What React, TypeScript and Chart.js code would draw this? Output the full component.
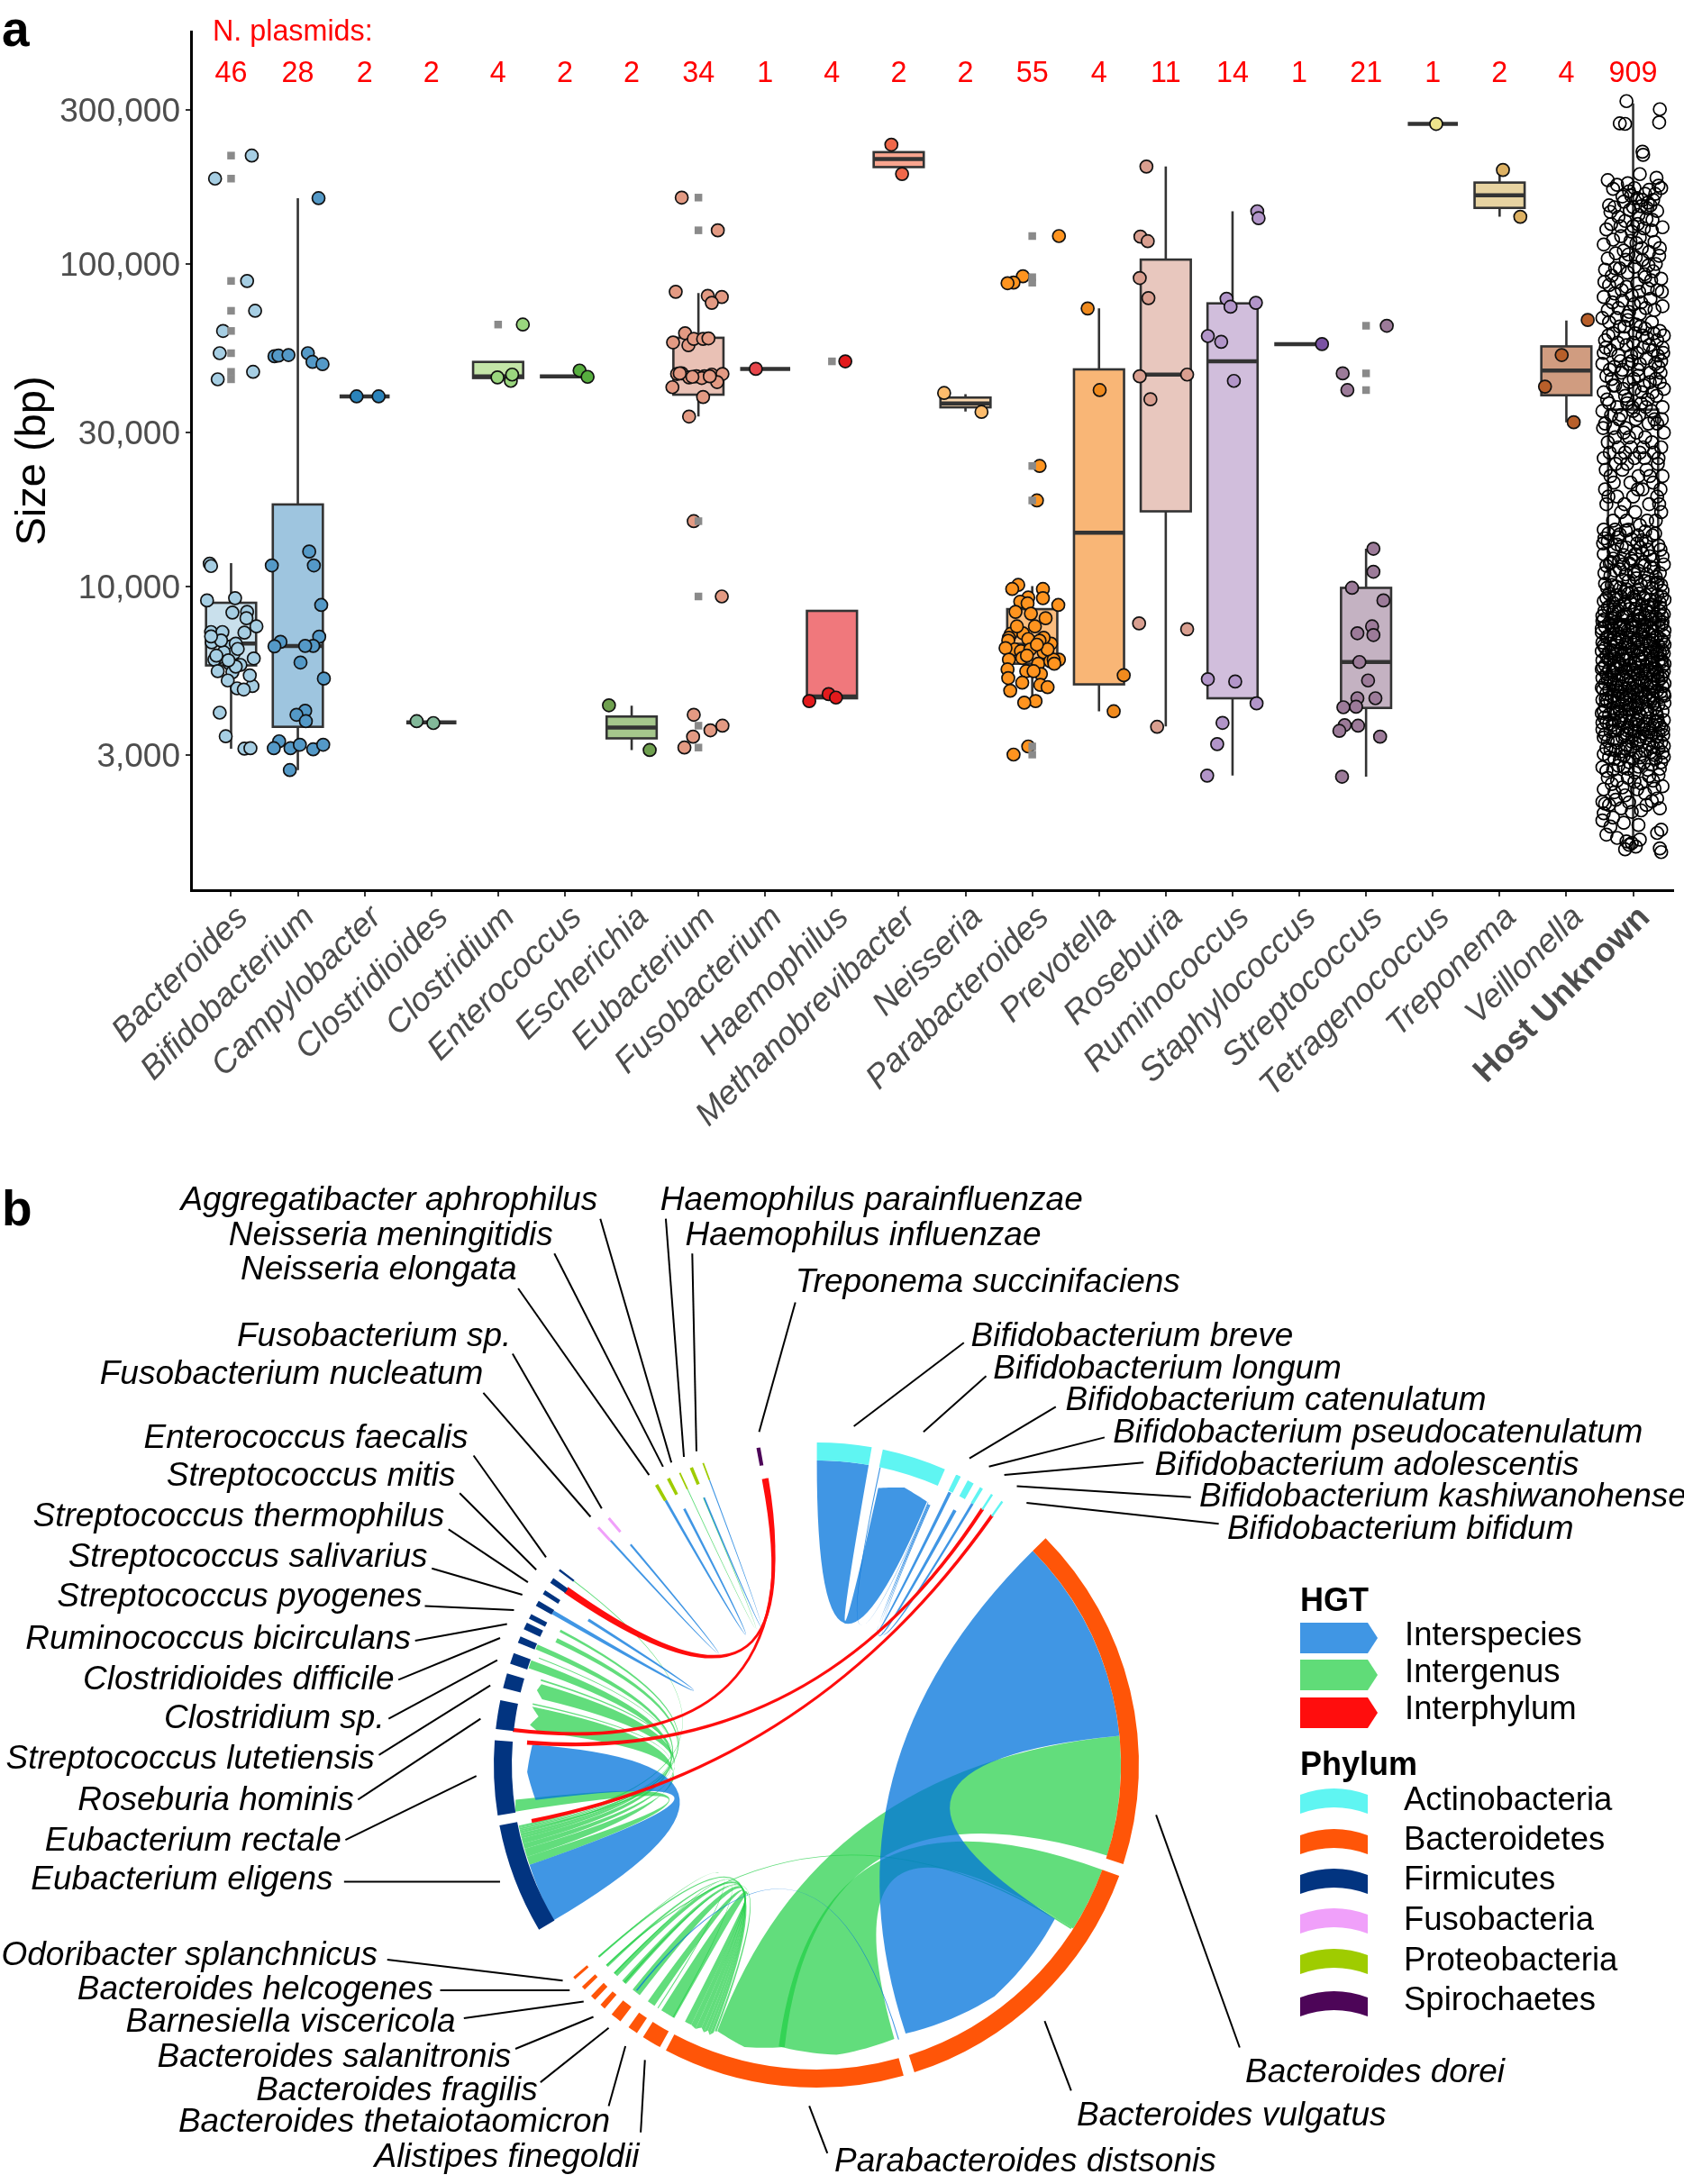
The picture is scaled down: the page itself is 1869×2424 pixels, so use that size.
import React, { useEffect, useRef } from "react";
import { Chart, registerables } from "chart.js";

Chart.register(...registerables);

const FONT = "'Liberation Sans', Arial, sans-serif";

// ---------- Panel a: data ----------
const categories = ["Bacteroides","Bifidobacterium","Campylobacter","Clostridioides","Clostridium","Enterococcus","Escherichia","Eubacterium","Fusobacterium","Haemophilus","Methanobrevibacter","Neisseria","Parabacteroides","Prevotella","Roseburia","Ruminococcus","Staphylococcus","Streptococcus","Tetragenococcus","Treponema","Veillonella","Host Unknown"];
const plasmidCounts = [46,28,2,2,4,2,2,34,1,4,2,2,55,4,11,14,1,21,1,2,4,909];
const yTicks = [3000,10000,30000,100000,300000];

const pointColors = ["#A6CEE3","#5499C7","#2B83BA","#82B899","#9AD67E","#57AE3F","#6FA04F","#E39A83","#E8464B","#E31A1C","#F0684A","#FDBC6C","#FF941F","#F08A1D","#D99F90","#B295C9","#7A52A3","#9C7B99","#EEE58C","#DDB163","#B85F2A","rgba(0,0,0,0)"];
const boxColors = ["#C9E0EC","#9EC5DF","#2B83BA","#82B899","#C4E5A8","#57AE3F","#A5C78C","#E9C1B5","#E8464B","#F0787C","#F9A58F","#FCD9AE","#FBBD7E","#F9B676","#E8C7BE","#D1BEDC","#7A52A3","#C4B2C2","#EEE58C","#E7D3A1","#D09C80","rgba(0,0,0,0)"];

const boxQ1 = [5690,3670,38850,3790,44300,44850,3380,39330,47300,4500,199800,35940,5760,4970,17100,4500,56450,4200,271900,149300,39170,4790];
const boxMedian = [6650,6540,38850,3790,44850,44850,3650,44850,47300,4560,211700,36980,6595,14690,45400,49900,56450,5830,271900,163400,46730,7840];
const boxQ3 = [8900,17960,38850,3790,49700,44850,3950,59050,47300,8400,222300,38530,8505,47120,103200,75500,56450,9900,271900,178900,55530,35350];
const whiskerLow = [3140,2695,38850,3790,44300,44850,3110,33650,47300,4500,199800,34900,4410,4100,3680,2590,56450,2570,271900,140100,32300,1518];
const whiskerHigh = [11820,160000,38850,3790,49700,44850,4270,81300,47300,8400,222300,39490,10030,72800,200600,145700,56450,13090,271900,194900,66770,315000];

const outliers = [
  [0,216900],[0,184000],[0,88600],[0,71600],[0,62000],[0,52900],[0,46300],[0,43900],
  [4,64900],
  [7,160700],[7,127200],[7,15940],[7,9310],[7,3700],[7,3165],
  [9,49900],
  [12,122100],[12,91000],[12,87500],[12,23640],[12,18480],[12,3190],[12,3010],
  [17,64350],[17,45800],[17,40640],
];

const bacteroides = [[.31,216900],[-.24,184000],[.24,88600],[.36,71600],[-.12,62000],[-.17,52900],[.33,46300],[-.2,43900],[-.32,11770],[-.3,11570],[-.36,9050],[.06,9200],[.24,8340],[.02,8300],[.23,7970],[.38,7520],[-.3,7220],[-.13,7220],[.2,7190],[-.29,6710],[0,6520],[.04,6200],[-.2,6000],[-.25,5930],[.34,5980],[.14,5710],[-.02,5760],[-.2,5460],[.02,5420],[-.05,5110],[.32,4910],[.09,4830],[.19,4790],[-.17,4060],[-.08,3430],[.2,3140],[.29,3150],[.07,6650],[-.11,6250],[.07,5640],[-.22,6100],[-.15,6800],[.1,6400],[-.04,5900],[-.3,7000],[.28,5300]];
const bifidobacterium = [[.31,160000],[-.35,51760],[-.29,51990],[-.14,52200],[.15,52900],[.22,49700],[.37,48900],[.17,12830],[-.39,11620],[.24,11620],[.35,8760],[.32,6985],[-.26,6735],[-.35,6520],[.23,6540],[.11,6540],[.04,5810],[.39,5180],[.11,4115],[-.02,4000],[.12,3820],[-.28,3310],[-.36,3150],[-.11,3150],[.03,3230],[.23,3125],[.38,3230],[-.12,2695]];
const campylobacter = [[-.12,38850],[.21,38850]];
const clostridioides = [[-.22,3820],[.03,3770]];
const clostridium = [[.37,64900],[-.01,44500],[.19,43400],[.21,45400]];
const enterococcus = [[.22,46730],[.34,44670]];
const escherichia = [[-.34,4280],[.27,3110]];
const eubacterium = [[-.25,160700],[.29,127200],[-.34,82000],[.14,79700],[.35,79000],[.2,75800],[-.2,61020],[-.38,57130],[-.15,55980],[-.07,58560],[.07,58560],[.15,58800],[-.25,45800],[-.32,45600],[-.03,44850],[-.14,44500],[.09,44850],[.2,45400],[.36,45600],[.28,43040],[-.39,41490],[.07,38690],[-.14,33650],[-.07,15940],[.35,9310],[-.07,4000],[.18,3580],[.36,3700],[-.08,3420],[-.21,3165],[.05,44300],[-.28,45800],[-.09,44670],[.17,44850]];
const fusobacterium = [[-.14,47300]];
const haemophilus = [[.2,49900],[-.34,4410],[-.05,4635],[.06,4522]];
const methanobrevibacter = [[-.11,234500],[.05,190200]];
const neisseria = [[-.32,39810],[.24,34770]];
const parabacteroides = [[.4,122100],[-.14,91600],[-.28,87600],[-.37,87200],[.11,23640],[.07,18480],[-.06,3190],[-.28,3010],[-.21,10110],[-.3,9820],[.16,9820],[.16,9200],[-.06,9240],[-.18,8970],[-.07,8860],[.39,8760],[-.02,8235],[-.25,8340],[.2,7970],[.04,7520],[-.14,7160],[-.32,7130],[-.35,6930],[-.06,6870],[-.36,6790],[.28,6650],[-.26,6380],[-.4,6440],[-.17,6300],[.17,6250],[-.35,5930],[.09,5760],[.27,5860],[.4,5930],[.32,5930],[-.37,5530],[-.09,5460],[.13,5350],[.02,5460],[-.36,5200],[-.15,5030],[.12,4950],[.23,4870],[-.33,4750],[.05,4410],[-.12,4360],[.17,6930],[-.15,6000],[.33,5760],[-.03,6380],[.11,6790],[-.23,7520],[.23,6380],[-.08,6100],[.07,6600]];
const prevotella = [[-.17,72800],[.01,40640],[.37,5305],[.22,4100]];
const roseburia = [[-.29,200600],[-.38,121600],[-.27,117700],[-.39,90500],[-.26,78400],[-.39,44850],[.32,45400],[-.23,38060],[-.4,7680],[.32,7370],[-.13,3670]];
const ruminococcus = [[.37,145700],[.39,138700],[-.09,78050],[-.03,73700],[.35,75800],[-.37,59770],[-.17,57380],[.02,43400],[-.37,5157],[.04,5073],[.36,4340],[-.15,3775],[-.23,3243],[-.38,2590]];
const staphylococcus = [[.34,56450]];
const streptococcus = [[.31,64350],[-.35,45800],[-.28,40640],[.11,13090],[.11,11110],[-.21,9900],[.26,9050],[.09,7520],[-.13,7160],[.11,7070],[-.1,5830],[.03,5110],[.14,4500],[-.13,4500],[-.34,4220],[-.15,4235],[-.32,3715],[-.12,3700],[-.4,3565],[.21,3420],[-.36,2570]];
const tetragenococcus = [[.05,271900]];
const treponema = [[.05,195700],[.31,140100]];
const veillonella = [[.32,67040],[-.07,52200],[-.32,41660],[.11,32300]];
// Host Unknown: [offset in hundredths of a category, size in kb] read from the dense cloud
const hostUnknown = [
-10,320,40,302,39,275,-20,273,-12,272,14,223,15,218,-38,182,10,190,-24,176,-30,171,35,185,-8,178,42,172,33,165,38,175,-6,168,6,160,14,158,-16,162,22,155,-28,150,26,152,2,172,-14,156,18,165,-36,152,30,158,0,150,12,151,-3,163,24,170,
-40,128,-34,145,-22,140,8,142,20,138,36,146,44,130,-12,136,0,131,16,129,28,127,-44,115,-30,119,-18,122,-4,118,10,121,32,117,40,112,-38,104,-26,108,-14,110,4,105,14,103,24,109,34,100,-42,96,-32,92,-20,97,-8,94,2,98,18,91,30,95,42,90,-36,86,-24,88,-10,85,6,87,22,84,36,83,-44,79,-28,81,-16,77,-2,80,12,76,26,78,44,74,-38,72,-22,73,-6,71,10,70,32,72,
-46,68,-36,66,-20,64,-8,67,4,65,18,63,28,66,40,62,46,60,-42,58,-30,61,-14,59,0,57,14,60,24,56,36,58,44,55,-44,53,-34,54,-22,52,-10,56,6,53,20,51,30,54,42,50,-46,49,-28,48,-16,47,-2,50,10,49,26,46,38,48,-40,45,-32,44,-18,46,-6,43,8,45,16,42,34,44,46,41,-44,40,-30,42,-12,39,2,41,22,38,40,43,-36,37,-24,36,-8,38,12,37,28,35,44,36,-46,35,-18,34,0,35,32,33,
-42,32,-30,31,-14,30,4,33,18,29,36,32,46,30,-38,28,-22,27,-6,29,10,26,28,28,42,27,-44,25,-26,24,-12,26,2,25,20,23,38,25,-34,22,-16,23,8,22,30,21,44,22,-42,20,-24,19,-4,21,14,20,36,19,-40,18,-18,17,0,19,24,18,42,17,-30,16,-10,16,10,15.5,34,16,-44,15,-20,14.5,-2,14,18,14.8,
-38,13.8,-24,13.5,-10,13.2,6,13.6,22,13,38,13.4,-44,12.6,-30,12.2,-14,12.5,0,12,14,12.7,30,12.1,44,12.4,-40,11.6,-20,11.3,-6,11.8,8,11.2,26,11.5,40,11,-34,10.8,-16,10.5,2,10.9,18,10.4,34,10.7,-42,10.2,-26,10,-10,9.8,12,10.1,28,9.9,44,9.7,-36,9.5,-18,9.3,-2,9.6,16,9.2,36,9.4,-44,9,-30,8.9,-12,8.8,4,9.1,22,8.7,40,8.9,-38,8.6,-22,8.4,-6,8.5,10,8.3,30,8.6,46,8.2,-46,8.1,-32,8,-16,8.1,0,7.9,18,8,34,8.05,
-46,7.8,-36,7.7,-26,7.75,-14,7.6,-4,7.7,8,7.8,20,7.6,32,7.7,44,7.75,-42,7.5,-30,7.4,-18,7.45,-8,7.3,4,7.5,14,7.35,26,7.4,38,7.5,47,7.3,-47,7.2,-34,7.1,-22,7.15,-10,7.05,0,7.2,12,7.1,24,7.15,36,7,46,7.05,-40,6.95,-28,6.9,-16,6.8,-4,6.95,8,6.85,18,6.9,30,6.8,42,6.85,-46,6.7,-34,6.65,-24,6.7,-12,6.6,2,6.7,14,6.6,26,6.65,38,6.55,47,6.6,-42,6.45,-30,6.5,-18,6.4,-6,6.5,6,6.45,20,6.4,32,6.5,44,6.35,-47,6.3,-36,6.25,-24,6.3,-12,6.2,0,6.3,12,6.2,24,6.25,36,6.15,46,6.2,-40,6.1,-28,6.05,-16,6.1,-4,6,8,6.1,18,6,30,6.05,42,5.95,-46,5.9,-34,5.9,-22,5.85,-10,5.9,2,5.8,14,5.85,26,5.8,38,5.85,47,5.75,-42,5.7,-30,5.7,-18,5.65,-6,5.7,6,5.6,20,5.65,32,5.6,44,5.65,-47,5.55,-36,5.5,-24,5.55,-12,5.45,0,5.5,12,5.45,24,5.5,36,5.4,46,5.45,-40,5.35,-28,5.3,-16,5.35,-4,5.25,8,5.35,18,5.25,30,5.3,42,5.2,-46,5.2,-34,5.15,-22,5.1,-10,5.15,2,5.05,14,5.1,26,5.05,38,5.1,47,5,-42,5,-30,4.95,-18,4.9,-6,4.95,6,4.9,20,4.95,32,4.85,44,4.9,-47,4.85,-36,4.8,-24,4.75,-12,4.8,0,4.7,12,4.75,24,4.7,36,4.75,46,4.65,-40,4.65,-28,4.6,-16,4.55,-4,4.6,8,4.5,18,4.55,30,4.5,42,4.55,-46,4.45,-34,4.4,-22,4.45,-10,4.35,2,4.4,14,4.35,26,4.4,38,4.3,47,4.35,-42,4.25,-30,4.2,-18,4.25,-6,4.15,6,4.2,20,4.15,32,4.2,44,4.1,-47,4.05,-36,4,-24,4.05,-12,3.95,0,4,12,3.95,24,3.9,36,3.95,46,3.85,-40,3.8,-28,3.85,-16,3.75,-4,3.8,8,3.7,18,3.75,30,3.7,42,3.65,-46,3.6,-34,3.55,-22,3.6,-10,3.5,2,3.55,14,3.5,26,3.45,38,3.5,
-44,3.4,-30,3.35,-16,3.4,-2,3.3,10,3.35,24,3.25,36,3.3,46,3.2,-40,3.15,-26,3.1,-12,3.15,4,3.05,18,3.1,32,3,44,3.05,-36,2.95,-20,2.9,-6,2.85,10,2.95,28,2.8,42,2.85,-46,2.75,-30,2.7,-14,2.75,2,2.65,22,2.7,38,2.6,-38,2.55,-24,2.5,-8,2.55,12,2.45,30,2.5,44,2.4,-44,2.35,-28,2.3,-12,2.25,6,2.35,36,2.2,-46,2.15,-36,2.1,-18,2.05,-2,2,20,2.1,40,2.05,-44,1.98,-30,1.92,-46,1.88,-34,1.8,-14,1.85,8,1.82,36,1.72,42,1.76,-40,1.7,-24,1.66,-10,1.62,-6,1.58,-2,1.6,4,1.56,10,1.64,40,1.54,42,1.5,-12,1.53,
];
const hostUnknownMore = [
-5,147,7,133,-19,131,21,149,-2,126,13,112,-33,133,29,137,-11,103,5,116,23,99,-27,97,-7,107,17,93,-43,88,39,106,-17,83,9,82,27,89,-31,76,1,75,19,73,43,82,-9,69,-25,68,11,64,31,61,-37,60,-13,64,3,61,21,59,37,52,-41,55,-23,57,-3,52,15,55,33,49,45,53,-35,47,-19,50,-7,49,7,47,25,43,41,46,-27,42,-15,41,1,44,13,40,35,39,-39,38,-9,37,19,36,29,40,-33,34,-21,33,-1,36,9,34,23,32,43,33,-45,31,-27,29,-11,31,5,30,15,27,31,26,-35,26,-19,25,-3,27,17,25,37,24,-41,23,-29,21,-9,24,7,20,25,22,41,20,-37,19,-13,18,3,17,21,16,39,18,-27,15,-7,15,13,13.9,29,14.4,-43,14.1,-33,11.9,-15,11.7,1,11.1,17,11.6,35,10.2,-39,9.9,-25,9.4,-7,10.4,9,9.5,25,9.1,43,9.3,-31,8.3,-13,8.9,3,8.5,19,8.4,41,8.6,
-44,7.9,-29,7.95,-9,8.05,11,7.95,27,7.9,39,7.85,-47,7.4,-33,7.55,-21,7.6,-1,7.45,17,7.55,29,7.25,43,7.6,-38,7,-25,6.75,-13,7.35,5,6.8,15,7.25,33,6.95,45,6.75,-44,6.55,-32,6.35,-20,6.95,-9,6.7,9,6.35,23,6.75,35,6.3,-37,5.95,-26,6.15,-15,5.95,-2,6.4,11,5.95,28,5.9,40,6.25,-45,5.6,-31,5.45,-20,5.75,-8,5.55,4,5.75,16,5.5,34,5.55,43,5.85,-38,5.15,-27,5.6,-14,5.25,2,5.4,10,5.2,22,5.35,37,5.25,-45,4.8,-33,5.05,-19,4.7,-7,5.1,7,4.75,17,5.05,29,4.6,44,5.3,-39,4.4,-26,4.9,-13,4.45,-1,4.85,13,4.5,27,4.9,41,4.7,-44,4.1,-32,4.55,-20,4.1,-5,4.3,9,4.05,23,4.45,35,4.05,-36,3.75,-18,3.85,-8,3.65,3,3.75,16,3.6,33,3.8,45,3.6,
-41,4.48,-23,4.38,-11,4.52,3,4.28,19,4.62,31,4.33,47,4.58,-43,3.92,-29,4.12,-17,3.98,-3,4.18,7,3.88,21,4.08,37,3.83,-46,3.78,-31,3.72,-21,3.82,-9,3.58,5,3.82,15,3.68,25,3.62,39,3.72,-42,3.48,-27,3.58,-13,3.46,-1,3.44,11,3.42,23,3.52,35,3.42,45,3.46,-38,3.32,-24,3.28,-10,3.22,6,3.26,20,3.38,30,3.18,42,3.28,-34,3.12,-18,3.08,-4,3.12,12,3.02,26,3.06,38,3.14,-44,3.02,-28,2.92,-14,2.98,0,2.92,16,2.84,34,2.92,46,2.96,-40,2.68,-22,2.78,-8,2.72,8,2.76,24,2.58,40,2.72,-32,2.44,-16,2.38,2,2.48,18,2.28,32,2.36,-42,2.12,-26,2.18,-6,2.14,12,2.02,28,2.16,
-37,14.6,-23,14.2,-11,14.9,7,14.4,19,13.8,33,14.6,-45,13.6,-29,12.9,-17,13.3,3,12.6,11,13.2,25,12.4,41,13,-35,11.8,-21,12,-3,12.2,15,11.9,31,11.4,46,11.7,-43,11,-27,11.2,-11,10.9,5,10.6,21,10.9,37,10.3,-32,10.1,-19,9.9,-7,9.5,9,9.8,24,10.3,42,10.1,-40,9.2,-25,9.1,-13,9.6,1,9.3,19,9.4,33,9,47,9.1,-35,8.7,-20,8.7,-4,8.9,13,8.8,27,8.8,39,8.4,-43,8.4,-28,8.5,-10,8.2,7,8.1,23,8.3,43,8.1,
];

const categoryPoints = [bacteroides,bifidobacterium,campylobacter,clostridioides,clostridium,enterococcus,escherichia,eubacterium,fusobacterium,haemophilus,methanobrevibacter,neisseria,parabacteroides,prevotella,roseburia,ruminococcus,staphylococcus,streptococcus,tetragenococcus,treponema,veillonella];

// ---------- Panel b: data (angles in degrees clockwise from 12 o'clock, radii in ring units, outer ring = 358) ----------
const phylumColors = { A:"#5FF5F2", B:"#FF5508", F:"#023480", U:"#F0A0FA", P:"#9FCC00", S:"#4D0558" };
const sectorNames = ["Bifidobacterium breve","Bifidobacterium longum","Bifidobacterium catenulatum","Bifidobacterium pseudocatenulatum","Bifidobacterium adolescentis","Bifidobacterium kashiwanohense","Bifidobacterium bifidum","Bacteroides dorei","Bacteroides vulgatus","Parabacteroides distsonis","Alistipes finegoldii","Bacteroides thetaiotaomicron","Bacteroides fragilis","Bacteroides salanitronis","Barnesiella viscericola","Bacteroides helcogenes","Odoribacter splanchnicus","Eubacterium eligens","Eubacterium rectale","Roseburia hominis","Streptococcus lutetiensis","Clostridium sp.","Clostridioides difficile","Ruminococcus bicirculans","Streptococcus pyogenes","Streptococcus salivarius","Streptococcus thermophilus","Streptococcus mitis","Enterococcus faecalis","Fusobacterium nucleatum","Fusobacterium sp.","Neisseria elongata","Neisseria meningitidis","Aggregatibacter aphrophilus","Haemophilus parainfluenzae","Haemophilus influenzae","Treponema succinifaciens"];
const sectorStart = [0.1,11.9,25.7,28.0,30.5,32.8,35.0,45.3,110.1,164.3,209,213.8,217.4,221,223.3,225.9,228.4,239.3,261,276.4,283.8,288.3,292.3,294.9,297,299.6,302,304.4,307,317.2,319.7,330,332.4,334.8,336.9,339.3,349.3];
const sectorEnd = [9.9,23.5,26.6,29.2,31.1,33.2,35.4,107.9,162.3,207.8,212.5,215.6,219.4,222,224.3,226.6,228.9,259.2,274.4,281.6,286.5,290.3,293.5,296.2,297.9,300.6,302.8,305.4,307.4,317.7,320.2,330.6,333,335.1,337.5,339.6,350];
const sectorPhyla = "AAAAAAABBBBBBBBBBFFFFFFFFFFFFUUPPPPPS".split("");

const intergenusLinks = [
  [[[84.5,338],[107.3,338]],[[186.4,315],[194.3,323],[200.4,315]]],
  [[[110.1,338],[122.5,338]],[[164.1,316],[176,322.4],[187.6,315]]],
  [[[122.5,336],[122.8,336]],[[226.2,322],[226.5,322]]],
  [[[209.3,322],[212.3,322]],[[205.7,320],[207.1,320]]],
  [[[213.9,322],[215.5,322]],[[204.6,322],[205.7,320]]],
  [[[217.5,322],[219.3,322]],[[203.6,318],[204.6,322]]],
  [[[221,322],[222,322]],[[202.8,322],[203.6,318]]],
  [[[223.3,322],[224.3,322]],[[202.2,318],[202.8,322]]],
  [[[225.9,322],[226.4,322]],[[201.6,322],[202.2,318]]],
  [[[228.4,322],[228.8,322]],[[201,318],[201.6,322]]],
  [[[221.3,322],[221.6,322]],[[200.5,316],[200.9,316]]],
  [[[224,322],[224.2,322]],[[209.5,322],[209.7,322]]],
  [[[228.5,322],[228.7,322]],[[213,322],[213.2,322]]],
  [[[250.8,337],[252.4,337]],[[261.2,338],[263.4,336]]],
  [[[252.4,337],[254,337]],[[276.8,311],[278,321],[279.9,313],[281.6,322]]],
  [[[254,337],[255,337]],[[283.5,313],[285,321],[286.4,318]]],
  [[[255,337],[256,337]],[[288.6,337],[290.2,337]]],
  [[[256,337],[256.5,337]],[[292.4,337],[293.4,337]]],
  [[[256.5,337],[257,337]],[[295.2,320],[296.1,320]]],
  [[[257,337],[257.4,337]],[[297.4,321],[297.9,321]]],
  [[[257.4,337],[257.7,337]],[[282,322],[282.3,322]]],
  [[[257.7,337],[258,337]],[[287,320],[287.3,320]]],
  [[[258,337],[258.2,337]],[[291,330],[291.2,330]]],
  [[[258.2,337],[258.5,337]],[[307.1,338],[307.3,338]]],
  [[[334.9,338],[335.05,338]],[[337,322],[337.2,322]]],
];
const interspeciesLinks = [
  [[[45.3,338],[84.5,338]],[[122.8,315],[142.4,324],[161.6,314]]],
  [[[0.1,338],[9.9,338]],[[12.6,315],[17.6,323],[22.8,317]]],
  [[[12,338],[12.2,338]],[[23,317],[23.1,317]]],
  [[[23.5,315],[23.7,315]],[[30.6,338],[31.1,338]]],
  [[[23.3,315],[23.5,315]],[[28.2,322],[28.9,322]]],
  [[[23.1,315],[23.3,315]],[[25.8,337],[26.4,337]]],
  [[[317.3,338],[317.7,338]],[[319.7,320],[320.1,320]]],
  [[[330.1,338],[330.6,338]],[[332.5,320],[333,320]]],
  [[[337.1,322],[337.4,322]],[[339.35,338],[339.55,338]]],
  [[[299.7,338],[300.5,338]],[[302.2,300],[302.8,300]]],
  [[[239.4,339],[250.8,337]],[[262.9,314],[268.6,321],[274.1,316]]],
  [[[163.2,318],[163.4,318]],[[218.4,320],[218.7,320]]],
];
const interphylumLinks = [
  [[[304.5,338],[305.5,338]],[[349.4,322],[350,322]]],
  [[[276.4,338],[276.8,338]],[[350,322],[350.35,322]]],
  [[[32.8,338],[33.15,338]],[[274.2,321],[274.7,321]]],
  [[[35,338],[35.3,338]],[[258.7,321],[259.1,321]]],
];
const linkColors = { interspecies:"rgba(0,115,219,0.75)", intergenus:"rgba(31,207,69,0.7)", interphylum:"#FF0D0D" };

// label text, x, y, alignment (coordinates in the 1209-wide reading of the figure)
const chordLabels = [
  ["Aggregatibacter aphrophilus",429,862,"right"],["Neisseria meningitidis",397,887,"right"],["Neisseria elongata",371,912,"right"],
  ["Haemophilus parainfluenzae",474,862,"left"],["Haemophilus influenzae",492,887,"left"],["Treponema succinifaciens",571,921,"left"],
  ["Fusobacterium sp.",367,960,"right"],["Fusobacterium nucleatum",347,987,"right"],
  ["Bifidobacterium breve",697,960,"left"],["Bifidobacterium longum",713,983,"left"],["Bifidobacterium catenulatum",765,1006,"left"],["Bifidobacterium pseudocatenulatum",799,1029,"left"],["Bifidobacterium adolescentis",829,1052,"left"],["Bifidobacterium kashiwanohense",861,1075,"left"],["Bifidobacterium bifidum",881,1098,"left"],
  ["Enterococcus faecalis",336,1033,"right"],["Streptococcus mitis",327,1060,"right"],["Streptococcus thermophilus",319,1089,"right"],["Streptococcus salivarius",307,1118,"right"],["Streptococcus pyogenes",303,1147,"right"],["Ruminococcus bicirculans",295,1177,"right"],["Clostridioides difficile",283,1206,"right"],["Clostridium sp.",276,1234,"right"],["Streptococcus lutetiensis",269,1263,"right"],["Roseburia hominis",254,1293,"right"],["Eubacterium rectale",245,1322,"right"],["Eubacterium eligens",239,1350,"right"],
  ["Odoribacter splanchnicus",271,1404,"right"],["Bacteroides helcogenes",311,1429,"right"],["Barnesiella viscericola",327,1452,"right"],["Bacteroides salanitronis",367,1477,"right"],["Bacteroides fragilis",386,1501,"right"],["Bacteroides thetaiotaomicron",438,1524,"right"],["Alistipes finegoldii",459,1549,"right"],
  ["Parabacteroides distsonis",599,1552,"left"],["Bacteroides vulgatus",773,1519,"left"],["Bacteroides dorei",894,1488,"left"],
];
const leaderLines = [
  [431,875,482,1050],[398,900,476,1053],[372,925,466,1059],[478,875,491,1046],[497,900,500,1042],[571,935,545,1028],
  [368,972,432,1083],[347,1000,424,1089],[340,1045,392,1118],[330,1072,385,1127],[322,1098,379,1136],[310,1126,375,1145],[305,1153,369,1156],[298,1178,364,1166],[286,1206,359,1176],[279,1234,357,1192],[272,1260,352,1210],[257,1292,345,1234],[248,1321,342,1275],[247,1351,359,1351],
  [278,1407,404,1422],[316,1429,409,1429],[333,1449,419,1437],[370,1471,426,1448],[388,1495,437,1456],[437,1512,449,1469],[460,1531,463,1479],[594,1546,581,1512],[769,1501,750,1451],[890,1470,830,1303],
  [692,964,613,1024],[708,988,663,1028],[758,1010,696,1047],[793,1032,710,1053],[821,1050,721,1059],[855,1075,730,1067],[875,1094,737,1079],
];
const hgtLegend = [["Interspecies",1816,"#4096E4",1801],["Intergenus",1857,"#60DC78",1842],["Interphylum",1898,"#FF0D0D",1884]];
const phylumLegend = [["Actinobacteria",1999,"A",1985],["Bacteroidetes",2043,"B",2030],["Firmicutes",2087,"F",2074],["Fusobacteria",2132,"U",2118],["Proteobacteria",2177,"P",2163],["Spirochaetes",2221,"S",2210]];

const KX = 1869 / 1209;
const TOP_B = 1290;

const boxPlugin = {
  id: "boxes",
  beforeDatasetsDraw(chart: any) {
    const { ctx, scales: { x, y } } = chart;
    const half = 0.375;
    ctx.save();
    ctx.strokeStyle = "#333333";
    categories.forEach((_, i) => {
      const cx = x.getPixelForValue(i);
      const l = x.getPixelForValue(i - half);
      const r = x.getPixelForValue(i + half);
      const q1 = y.getPixelForValue(boxQ1[i]);
      const q3 = y.getPixelForValue(boxQ3[i]);
      const m = y.getPixelForValue(boxMedian[i]);
      ctx.lineWidth = 2.6;
      ctx.beginPath();
      ctx.moveTo(cx, y.getPixelForValue(whiskerHigh[i]));
      ctx.lineTo(cx, q3);
      ctx.moveTo(cx, q1);
      ctx.lineTo(cx, y.getPixelForValue(whiskerLow[i]));
      ctx.stroke();
      if (boxQ3[i] > boxQ1[i]) {
        ctx.fillStyle = boxColors[i];
        ctx.fillRect(l, q3, r - l, q1 - q3);
        ctx.strokeRect(l, q3, r - l, q1 - q3);
      }
      ctx.lineWidth = 4.5;
      ctx.beginPath();
      ctx.moveTo(l, m);
      ctx.lineTo(r, m);
      ctx.stroke();
    });
    ctx.restore();
  },
  afterDraw(chart: any) {
    const { ctx, scales: { x } } = chart;
    ctx.save();
    ctx.fillStyle = "#FF0000";
    ctx.font = `32.3px ${FONT}`;
    ctx.textBaseline = "middle";
    ctx.textAlign = "left";
    ctx.fillText("N. plasmids:", 236, 36);
    ctx.textAlign = "center";
    plasmidCounts.forEach((n, i) => ctx.fillText(String(n), x.getPixelForValue(i), 82));
    ctx.fillStyle = "#000";
    ctx.font = `bold 55px ${FONT}`;
    ctx.textAlign = "left";
    ctx.fillText("a", 2, 36);
    ctx.restore();
  },
};

function tracePolar(ctx: any, pts: number[][], cx: number, cy: number, k: number, first: boolean) {
  const at = (t: number, r: number) => {
    const a = (t * Math.PI) / 180;
    return [cx + r * k * Math.sin(a), cy - r * k * Math.cos(a)];
  };
  pts.forEach((p, i) => {
    const [px, py] = at(p[0], p[1]);
    if (i === 0) {
      if (first) ctx.moveTo(px, py);
      else ctx.quadraticCurveTo(cx, cy, px, py);
      return;
    }
    const prev = pts[i - 1];
    for (let s = 1; s <= 10; s++) {
      const f = s / 10;
      const [qx, qy] = at(prev[0] + (p[0] - prev[0]) * f, prev[1] + (p[1] - prev[1]) * f);
      ctx.lineTo(qx, qy);
    }
  });
}

const chordPlugin = {
  id: "chord",
  beforeDatasetsDraw(chart: any) {
    const { ctx } = chart;
    const arc = chart.getDatasetMeta(0).data[0];
    const cx = arc.x, cy = arc.y, k = arc.outerRadius / 358;
    const draw = (links: any[], color: string, stroke: number) => {
      ctx.fillStyle = color;
      ctx.strokeStyle = color;
      ctx.lineWidth = stroke;
      links.forEach(([a, b]) => {
        ctx.beginPath();
        tracePolar(ctx, a, cx, cy, k, true);
        tracePolar(ctx, b, cx, cy, k, false);
        const [t, r] = a[0];
        const rad = (t * Math.PI) / 180;
        ctx.quadraticCurveTo(cx, cy, cx + r * k * Math.sin(rad), cy - r * k * Math.cos(rad));
        ctx.closePath();
        ctx.fill();
        if (stroke > 0) ctx.stroke();
      });
    };
    ctx.save();
    draw(intergenusLinks, linkColors.intergenus, 0);
    draw(interspeciesLinks, linkColors.interspecies, 0);
    draw(interphylumLinks, linkColors.interphylum, 2);
    ctx.restore();
  },
  afterDraw(chart: any) {
    const { ctx } = chart;
    ctx.save();
    ctx.fillStyle = "#000";
    ctx.textBaseline = "middle";
    ctx.font = `bold 55px ${FONT}`;
    ctx.textAlign = "left";
    ctx.fillText("b", 2, 1345 - TOP_B);
    ctx.font = `italic 37px ${FONT}`;
    chordLabels.forEach(([t, x, y, al]: any) => {
      ctx.textAlign = al;
      ctx.fillText(t, x * KX, y * KX - TOP_B);
    });
    ctx.strokeStyle = "#000";
    ctx.lineWidth = 2;
    leaderLines.forEach(([a, b, c, d]) => {
      ctx.beginPath();
      ctx.moveTo(a * KX, b * KX - TOP_B);
      ctx.lineTo(c * KX, d * KX - TOP_B);
      ctx.stroke();
    });
    // legend
    ctx.textAlign = "left";
    ctx.font = `bold 36px ${FONT}`;
    ctx.fillText("HGT", 1443, 1778 - TOP_B);
    ctx.fillText("Phylum", 1443, 1960 - TOP_B);
    ctx.font = `36.5px ${FONT}`;
    hgtLegend.forEach(([t, y, c, top]: any) => {
      const yy = top - TOP_B;
      ctx.fillStyle = c;
      ctx.beginPath();
      ctx.moveTo(1443, yy);
      ctx.lineTo(1518, yy);
      ctx.lineTo(1529, yy + 17);
      ctx.lineTo(1518, yy + 34);
      ctx.lineTo(1443, yy + 34);
      ctx.closePath();
      ctx.fill();
      ctx.fillStyle = "#000";
      ctx.fillText(t, 1559, y - TOP_B);
    });
    phylumLegend.forEach(([t, y, p, top]: any) => {
      const yy = top - TOP_B;
      ctx.fillStyle = (phylumColors as any)[p];
      ctx.beginPath();
      ctx.moveTo(1443, yy + 7);
      ctx.quadraticCurveTo(1480.5, yy - 7, 1518, yy + 7);
      ctx.lineTo(1518, yy + 28);
      ctx.quadraticCurveTo(1480.5, yy + 14, 1443, yy + 28);
      ctx.closePath();
      ctx.fill();
      ctx.fillStyle = "#000";
      ctx.fillText(t, 1558, y - TOP_B);
    });
    ctx.restore();
  },
};

export default function App() {
  const refA = useRef<HTMLCanvasElement>(null);
  const refB = useRef<HTMLCanvasElement>(null);

  useEffect(() => {
    const hostPoints: any[] = [];
    [hostUnknown, hostUnknownMore].forEach((list) => {
      for (let i = 0; i < list.length; i += 2) {
        hostPoints.push({ x: 21 + list[i] / 100, y: list[i + 1] * 1000 });
      }
    });
    const datasets: any[] = [
      {
        label: "Outliers",
        data: outliers.map(([c, v]) => ({ x: c, y: v })),
        pointStyle: "rect",
        pointRadius: 6,
        backgroundColor: "#8A8A8A",
        borderColor: "#8A8A8A",
        pointBorderWidth: 0,
      },
      ...categoryPoints.map((pts, i) => ({
        label: categories[i],
        data: pts.map(([o, v]) => ({ x: i + o, y: v })),
        pointRadius: 7,
        backgroundColor: pointColors[i],
        borderColor: "#111111",
        pointBorderWidth: 1.7,
      })),
      {
        label: categories[21],
        data: hostPoints,
        pointRadius: 7,
        backgroundColor: "rgba(0,0,0,0)",
        borderColor: "#000000",
        pointBorderWidth: 1.7,
      },
    ];
    const chartA = new Chart(refA.current as any, {
      type: "scatter",
      data: { datasets },
      plugins: [boxPlugin],
      options: {
        animation: false,
        responsive: false,
        devicePixelRatio: 1,
        layout: { padding: { left: 0, top: 35, right: 12, bottom: 0 } },
        plugins: { legend: { display: false }, tooltip: { enabled: false } },
        scales: {
          x: {
            type: "linear",
            min: -0.6,
            max: 21.6,
            afterFit: (s: any) => { s.height = 302; },
            afterBuildTicks: (s: any) => { s.ticks = categories.map((_, i) => ({ value: i })); },
            grid: { drawOnChartArea: false, drawTicks: true, tickLength: 7, color: "#333333", lineWidth: 2 },
            border: { display: true, color: "#000", width: 3 },
            ticks: {
              autoSkip: false,
              minRotation: 45,
              maxRotation: 45,
              labelOffset: 13,
              padding: 2,
              color: "#4D4D4D",
              font: (c: any) => c.index === 21
                ? { family: FONT, size: 37, weight: "bold", style: "normal" }
                : { family: FONT, size: 37, style: "italic", weight: "normal" },
              callback: (v: any) => categories[Math.round(v)],
            },
          },
          y: {
            type: "logarithmic",
            min: 1143,
            max: 526000,
            afterFit: (s: any) => { s.width = 212; },
            afterBuildTicks: (s: any) => { s.ticks = yTicks.map((v) => ({ value: v })); },
            title: { display: true, text: "Size (bp)", color: "#000", font: { family: FONT, size: 47 }, padding: { top: 9, bottom: 0 } },
            grid: { drawOnChartArea: false, drawTicks: true, tickLength: 6, color: "#333333", lineWidth: 2 },
            border: { display: true, color: "#000", width: 3 },
            ticks: {
              autoSkip: false,
              minRotation: 0,
              maxRotation: 0,
              padding: 6,
              labelOffset: 3,
              color: "#4D4D4D",
              font: { family: FONT, size: 37 },
              callback: (v: any) => Number(v).toLocaleString("en-US"),
            },
          },
        },
      },
    } as any);

    // doughnut ring: sectors separated by transparent gaps
    const ringLabels: string[] = [];
    const ringValues: number[] = [];
    const ringColors: string[] = [];
    let prev = 0;
    sectorNames.forEach((n, i) => {
      ringLabels.push("gap");
      ringValues.push(sectorStart[i] - prev);
      ringColors.push("rgba(0,0,0,0)");
      ringLabels.push(n);
      ringValues.push(sectorEnd[i] - sectorStart[i]);
      ringColors.push((phylumColors as any)[sectorPhyla[i]]);
      prev = sectorEnd[i];
    });
    ringLabels.push("gap");
    ringValues.push(360 - prev);
    ringColors.push("rgba(0,0,0,0)");

    const chartB = new Chart(refB.current as any, {
      type: "doughnut",
      data: { labels: ringLabels, datasets: [{ data: ringValues, backgroundColor: ringColors, borderWidth: 0 }] },
      plugins: [chordPlugin],
      options: {
        animation: false,
        responsive: false,
        devicePixelRatio: 1,
        cutout: "94.4%",
        rotation: 0,
        circumference: 360,
        layout: { padding: { left: 548, top: 311, right: 605, bottom: 107 } },
        plugins: { legend: { display: false }, tooltip: { enabled: false } },
      },
    } as any);

    return () => {
      chartA.destroy();
      chartB.destroy();
    };
  }, []);

  return (
    <div style={{ position: "absolute", left: 0, top: 0, width: 1869, height: 2424, background: "#fff", overflow: "hidden" }}>
      <canvas ref={refA} width={1869} height={1290} style={{ position: "absolute", left: 0, top: 0, display: "block" }} />
      <canvas ref={refB} width={1869} height={1134} style={{ position: "absolute", left: 0, top: TOP_B, display: "block" }} />
    </div>
  );
}
